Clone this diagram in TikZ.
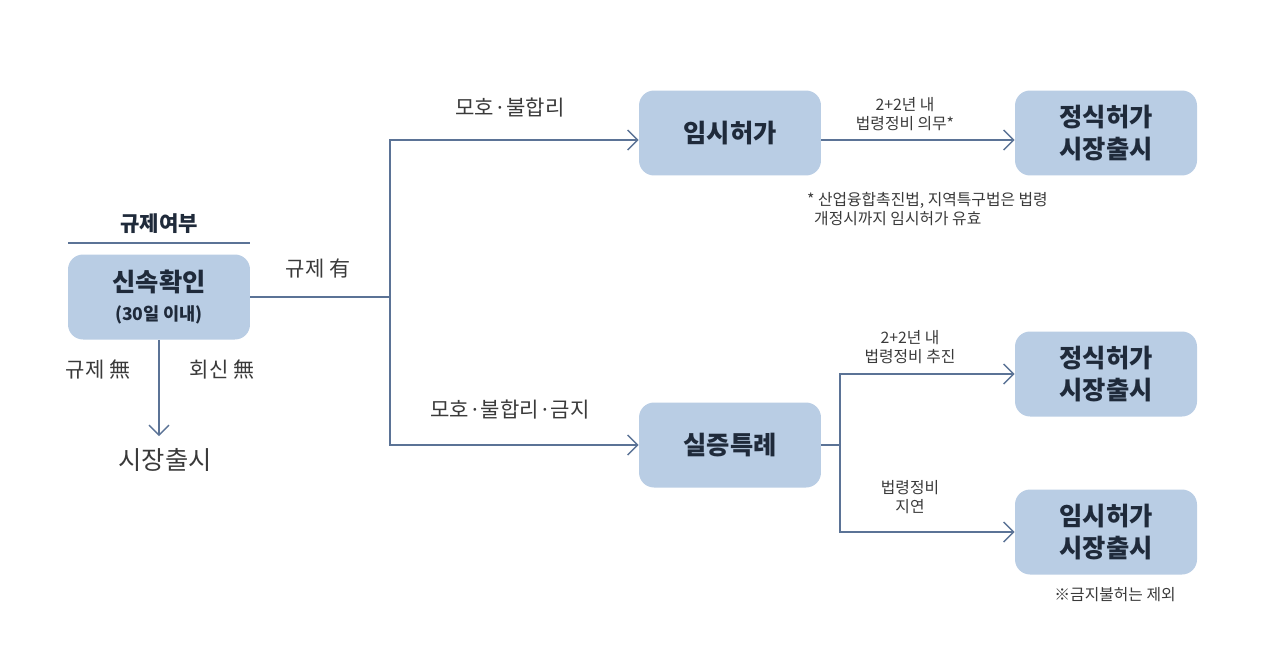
\documentclass[tikz,border=0pt]{standalone}
\usepackage{fontspec}
\setmainfont{Noto Sans CJK KR}
\usepackage{xcolor}
\definecolor{boxFill}{HTML}{B9CDE4}
\definecolor{boxText}{HTML}{1F2A3A}
\definecolor{lineCol}{HTML}{5B7396}
\definecolor{textCol}{HTML}{3A3A3A}
\usetikzlibrary{arrows.meta,positioning,calc}
\tikzset{
    box/.style={
        fill=boxFill,
        draw=none,
        rectangle,
        rounded corners=3mm,
        align=center,
        minimum height=1.7cm,
        minimum width=3.64cm,
        font=\Large\bfseries,
        text=boxText
    },
    conn/.style={
        draw=lineCol,
        thick
    },
    arrow/.style={
        conn,
        -{Straight Barb[length=2mm]}
    },
    lbl/.style={
        font=\large,
        text=textCol,
        align=center
    },
    small/.style={
        font=\small,
        text=textCol,
        align=center,
        inner sep=1pt
    }
}
\begin{document}
\begin{tikzpicture}[x=0.02cm,y=-0.02cm]
    \useasboundingbox (0,0) rectangle (1280,660);
    % left block
    \node[font=\large\bfseries,text=boxText] (title) at (159,224) {규제여부};
    \draw[lineCol,thick] (68,243) -- (250,243);
    \node[box,minimum height=1.7cm] (check) at (159,297) {신속확인\\[-2pt]{\normalsize (30일 이내)}};
    \node[lbl,font=\Large] (market) at (165,460) {시장출시};
    \draw[arrow] (check.south) -- (159,436);
    \node[lbl] at (98,369) {규제 無};
    \node[lbl] at (222,369) {회신 無};

    % middle boxes
    \node[box] (temp) at (730,133) {임시허가};
    \node[box] (sandbox) at (730,445) {실증특례};
    \coordinate (split) at (390,297);
    \draw[conn] (check.east) -- (split);
    \node[lbl] at (318,268) {규제 有};
    \draw[arrow] (split) |- (temp.west |- 0,140);
    \draw[arrow] (split) |- (sandbox.west);
    \node[lbl] at (510,108) {모호·불합리};
    \node[lbl] at (510,410) {모호·불합리·금지};

    % right boxes
    \node[box] (formal1) at (1106,133) {정식허가\\시장출시};
    \node[box] (formal2) at (1106,374) {정식허가\\시장출시};
    \node[box] (temp2) at (1106,532) {임시허가\\시장출시};
    \draw[arrow] (temp.east |- 0,140) -- (formal1.west |- 0,140);
    \node[small] at (905,114) {2+2년 내\\법령정비 의무*};
    \node[small,align=left,anchor=north west] at (805,190) {* 산업융합촉진법, 지역특구법은 법령\\\ \ 개정시까지 임시허가 유효};
    \coordinate (split2) at (840,445);
    \draw[conn] (sandbox.east) -- (split2);
    \draw[arrow] (split2) |- (formal2.west);
    \draw[arrow] (split2) |- (temp2.west);
    \node[small] at (910,347) {2+2년 내\\법령정비 추진};
    \node[small] at (910,497) {법령정비\\지연};
    \node[small] at (1115,595) {※금지불허는 제외};
\end{tikzpicture}
\end{document}
